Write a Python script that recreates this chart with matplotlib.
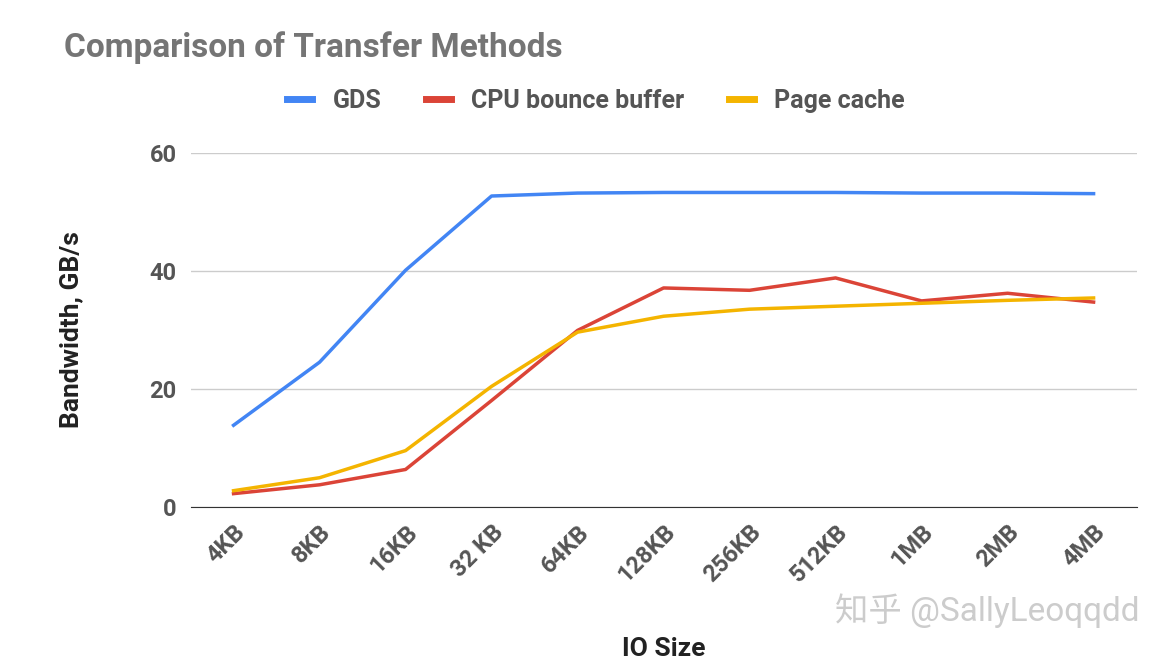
import matplotlib.pyplot as plt

io_sizes = ["4KB", "8KB", "16KB", "32 KB", "64KB", "128KB", "256KB", "512KB", "1MB", "2MB", "4MB"]
gds = [13.8, 24.5, 40.1, 52.7, 53.2, 53.3, 53.3, 53.3, 53.2, 53.2, 53.1]
cpu_bounce = [2.2, 3.7, 6.3, 18.0, 29.9, 37.1, 36.7, 38.8, 34.9, 36.2, 34.7]
page_cache = [2.7, 4.9, 9.5, 20.4, 29.6, 32.3, 33.5, 34.0, 34.5, 35.0, 35.4]

plt.rcParams["font.family"] = ["Roboto", "Noto Sans CJK SC", "DejaVu Sans"]

fig = plt.figure(figsize=(11.69, 6.71), dpi=100)
ax = fig.add_axes([0.163, 0.245, 0.81, 0.527])

x = range(len(io_sizes))
ax.plot(x, gds, color="#4285f4", lw=2.5, label="GDS")
ax.plot(x, cpu_bounce, color="#db4437", lw=2.5, label="CPU bounce buffer")
ax.plot(x, page_cache, color="#f4b400", lw=2.5, label="Page cache")

ax.set_ylim(0, 60)
ax.set_yticks([0, 20, 40, 60])
ax.set_xlim(-0.5, 10.51)
ax.set_xticks(list(x))
ax.set_xticklabels(io_sizes, rotation=45, ha="right", rotation_mode="anchor")
ax.grid(axis="y", color="#cccccc", lw=1)
ax.set_axisbelow(True)
for s in ["top", "right", "left"]:
    ax.spines[s].set_visible(False)
ax.spines["bottom"].set_color("#333333")
ax.tick_params(length=0, labelsize=17, colors="#555555", pad=10)
for t in ax.get_xticklabels() + ax.get_yticklabels():
    t.set_fontweight("bold")

ax.set_ylabel("Bandwidth, GB/s", fontsize=19, fontweight="bold", color="#222222", labelpad=48)
ax.set_xlabel("IO Size", fontsize=19, fontweight="bold", color="#222222", labelpad=36)

fig.text(0.055, 0.915, "Comparison of Transfer Methods", fontsize=24, fontweight="bold", color="#757575")
leg = fig.legend(loc="center", bbox_to_anchor=(0.51, 0.85), ncol=3, frameon=False,
                 fontsize=18, handlelength=1.0, columnspacing=1.8, handletextpad=0.8)
for t in leg.get_texts():
    t.set_fontweight("bold")
    t.set_color("#555555")
for h in leg.legend_handles:
    h.set_linewidth(5)

fig.text(0.975, 0.075, "知乎 @SallyLeoqqdd", fontsize=24, color="#cccccc", ha="right")

fig.savefig("out.png")
